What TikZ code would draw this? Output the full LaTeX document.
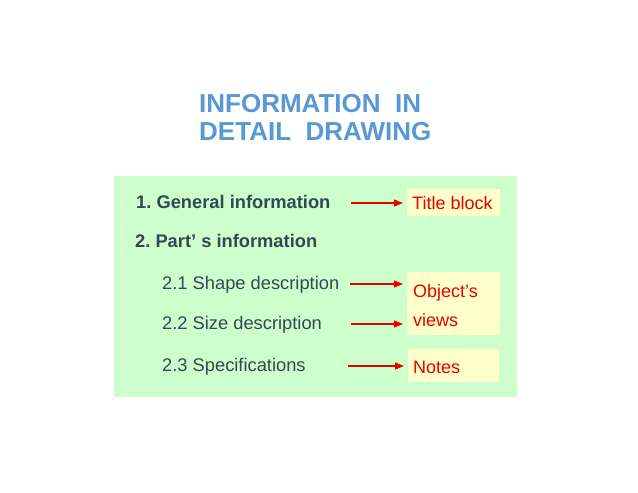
\documentclass[tikz,border=0pt]{standalone}
\usepackage{fontspec}
\setmainfont{Liberation Sans}
\usepackage{xcolor}
\usetikzlibrary{arrows.meta}
\frenchspacing

\definecolor{titleblue}{RGB}{88,152,212}
\definecolor{itemgray}{RGB}{52,72,84}
\definecolor{palegreen}{RGB}{204,255,204}
\definecolor{paleyellow}{RGB}{255,255,204}
\definecolor{notered}{RGB}{228,0,0}

\begin{document}
\begin{tikzpicture}[x=1pt,y=-1pt,
    ttl/.style={anchor=base west,inner sep=0pt,text=titleblue,font=\fontsize{26}{30}\selectfont\bfseries},
    head/.style={anchor=base west,inner sep=0pt,text=itemgray,font=\fontsize{18.3}{22}\selectfont\bfseries},
    item/.style={anchor=base west,inner sep=0pt,text=itemgray,font=\fontsize{18.3}{22}\selectfont},
    ybox/.style={anchor=north west,fill=paleyellow,inner sep=0pt},
    rtext/.style={anchor=base west,inner sep=0pt,text=notered,font=\fontsize{18}{22}\selectfont},
    arr/.style={draw=notered,line width=1.3pt,-{Triangle[length=9pt,width=7pt]},shorten >=4pt}]
    \useasboundingbox (0,0) rectangle (638,493);

            % title
            \node (t1) at (199,112) [ttl] {INFORMATION~ IN};
            \node (t2) at (199,140) [ttl] {DETAIL~ DRAWING};

            % green panel
            \node (bg) at (114,176) [anchor=north west,fill=palegreen,inner sep=0pt,minimum width=403pt,minimum height=221pt] {};

            % yellow boxes
            \node (tb) at (407,189) [ybox,minimum width=93pt,minimum height=27pt] {};
            \node (ov) at (407,272) [ybox,minimum width=93pt,minimum height=63pt] {};
            \node (nt) at (408,349) [ybox,minimum width=91pt,minimum height=33pt] {};

            % items
            \node (g) at (136,208) [head] {1. General information};
            \node (p) at (135,247) [head] {2. Part’ s information};
            \node (sd) at (162,289) [item] {2.1 Shape description};
            \node (zd) at (162,329) [item] {2.2 Size description};
            \node (sp) at (162,371) [item] {2.3 Specifications};

            % targets
            \node (tbl) at (412,209) [rtext] {Title block};
            \node (ov1) at (413,297) [rtext] {Object’s};
            \node (ov2) at (413,326) [rtext] {views};
            \node (ntl) at (413,373) [rtext] {Notes};

            \coordinate (s1) at (351,203);
            \coordinate (s2) at (350,284);
            \coordinate (s3) at (351,324);
            \coordinate (s4) at (348,366);

            \draw[arr] (s1) -- (s1 -| tb.west);
            \draw[arr] (s2) -- (s2 -| ov.west);
            \draw[arr] (s3) -- (s3 -| ov.west);
            \draw[arr] (s4) -- (s4 -| nt.west);

        \end{tikzpicture}
\end{document}
